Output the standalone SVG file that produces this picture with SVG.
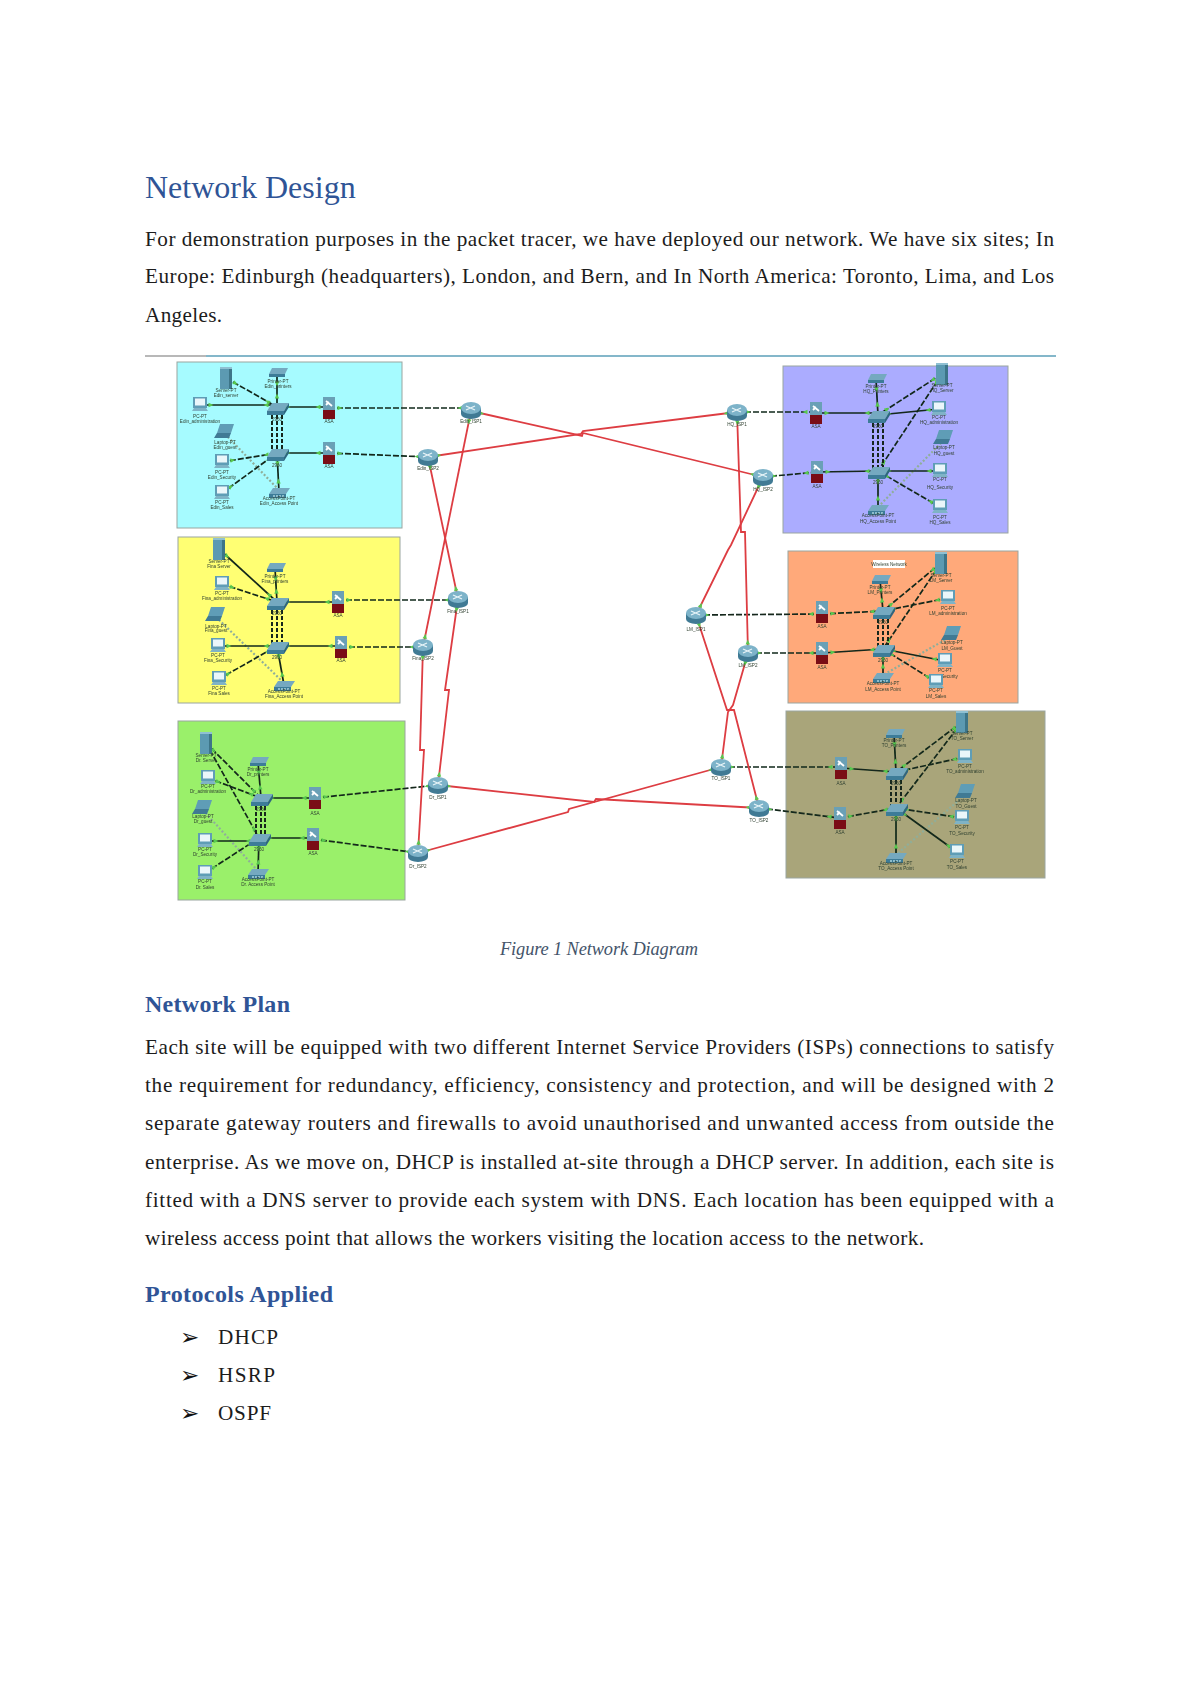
<svg xmlns="http://www.w3.org/2000/svg" width="1200" height="1698" viewBox="0 0 1200 1698">
<style>
text{font-family:"Liberation Serif","Times New Roman",serif}
.b{font-size:21.2px;fill:#1c1c1c}
.h1{font-size:32px;fill:#2f5496}
.h2{font-size:24px;font-weight:bold;fill:#2f5496}
.cap{font-size:18.4px;font-style:italic;fill:#44546a}
.li{font-size:21.2px;fill:#1c1c1c}
.bu{font-family:"DejaVu Sans",sans-serif;font-size:23px;fill:#111}
.n text{font-family:"Liberation Sans",Arial,sans-serif;font-size:4.6px;fill:#2f4030;text-anchor:middle}
.site{stroke:#9aa5a0;stroke-width:1}
.l,.d,.t,.w,.r{fill:none}
.l{stroke:#12281a;stroke-width:1.7;marker-start:url(#ds);marker-end:url(#de)}
.d{stroke:#12281a;stroke-width:1.7;stroke-dasharray:6 2;marker-start:url(#ds);marker-end:url(#de)}
.t{stroke:#12281a;stroke-width:2;stroke-dasharray:4 2}
.w{stroke:#8fae9a;stroke-width:2.2;stroke-dasharray:2 2}
.r{stroke:#dd3c42;stroke-width:1.8;marker-start:url(#ds);marker-end:url(#de)}
</style>
<defs>
<filter id="soft" x="0" y="0" width="1" height="1"><feGaussianBlur stdDeviation="0.6"/></filter>
<marker id="ds" markerUnits="userSpaceOnUse" markerWidth="8" markerHeight="8" refX="-11" refY="0" orient="auto" overflow="visible"><path d="M-2.5-2.2 2.5 0-2.5 2.2Z" fill="#58c94f"/></marker>
<marker id="de" markerUnits="userSpaceOnUse" markerWidth="8" markerHeight="8" refX="11" refY="0" orient="auto" overflow="visible"><path d="M2.5-2.2-2.5 0 2.5 2.2Z" fill="#58c94f"/></marker>
<g id="srv"><rect x="-6" y="-11" width="12" height="22" fill="#5c9ab2"/><rect x="3" y="-11" width="3" height="22" fill="#3d7488"/><rect x="-6" y="-11" width="12" height="2" fill="#8fc0d2"/></g>
<g id="pc"><rect x="-7" y="-8" width="14" height="11" fill="#5f9db6"/><rect x="-5" y="-6.500" width="10" height="7" fill="#eaf6fa"/><path d="M-8 6-6 3H6L8 6Z" fill="#7fb3c6"/></g>
<g id="lap"><path d="M-5-8H9L6 1H-8Z" fill="#5f9db6"/><path d="M-11 6-8 1H6L4 6Z" fill="#3f7a94"/></g>
<g id="sw"><path d="M-10 4-5-4H12L7 4Z" fill="#74a9c0"/><path d="M-10 4H7V8H-10Z" fill="#3e7c98"/><path d="M7 4 12-4V0L7 8Z" fill="#2f6580"/></g>
<g id="fw"><rect x="-6" y="-11" width="12" height="13" fill="#6aa0b6"/><rect x="-6" y="2" width="12" height="9" fill="#7a0d16"/><path d="M-3-7 3-2M-3-3 0-6" stroke="#fff" stroke-width="1.8" fill="none"/></g>
<g id="rt"><path d="M-10-2V4A10 5 0 0 0 10 4V-2Z" fill="#3f7a94"/><ellipse cx="0" cy="-2" rx="10" ry="6" fill="#7db3c9"/><path d="M-5-4 4 0M4-4-5 0" stroke="#e8f4f8" stroke-width="1.300"/></g>
<g id="ap"><path d="M-10 2-6-4H11L7 2Z" fill="#74a9c0"/><path d="M-10 2H7V6H-10Z" fill="#3e7c98"/><path d="M-6 4H5" stroke="#dff" stroke-dasharray="2 1"/></g>
<g id="pr"><path d="M-8 1-5-5H11L8 1Z" fill="#74a9c0"/><path d="M-8 1H8V4H-8Z" fill="#3e7c98"/></g>
</defs>
<rect width="1200" height="1698" fill="#fff"/>
<text class="h1" x="145" y="198">Network Design</text>
<text class="b" x="145" y="246" textLength="909" lengthAdjust="spacing">For demonstration purposes in the packet tracer, we have deployed our network. We have six sites; In</text>
<text class="b" x="145" y="283" textLength="909" lengthAdjust="spacing">Europe: Edinburgh (headquarters), London, and Bern, and In North America: Toronto, Lima, and Los</text>
<text class="b" x="145" y="322" textLength="77" lengthAdjust="spacing">Angeles.</text>
<path d="M145 356H206" stroke="#a0a0a0" stroke-width="1.500"/><path d="M206 356H1056" stroke="#5b9fb8" stroke-width="1.500"/>

<g id="sites">
<rect class="site" x="177" y="362" width="225" height="166" fill="#a6fbff"/>
<rect class="site" x="178" y="537" width="222" height="166" fill="#ffff73"/>
<rect class="site" x="178" y="721" width="227" height="179" fill="#9af06a"/>
<rect class="site" x="783" y="366" width="225" height="167" fill="#abacff"/>
<rect class="site" x="788" y="551" width="230" height="152" fill="#ffa97a"/>
<rect class="site" x="786" y="711" width="259" height="167" fill="#a9a57a"/>
<rect x="873" y="560" width="32" height="8" fill="#fff"/>
</g>
<g filter="url(#soft)">
<g id="connectors">
<path class="w" d="M225 434 279 490"/><path class="w" d="M216 617 284 683"/><path class="w" d="M203 810 258 871"/><path class="w" d="M944 440 878 507"/><path class="w" d="M952 636 883 675"/><path class="w" d="M966 794 896 855"/>
<path class="d" d="M226 378 277 407"/><path class="l" d="M277 373V407"/><path class="l" d="M200 405H277"/><path class="l" d="M277 407H329"/><path class="l" d="M277 453H329"/><path class="t" d="M272 409V452M277 409V452M282 409V452"/><path class="d" d="M222 462 277 453"/><path class="d" d="M222 493 277 453"/><path class="l" d="M279 492 277 453"/><path class="d" d="M329 408H471"/><path class="d" d="M329 453 428 457"/>
<path class="l" d="M219 549 277 602"/><path class="d" d="M222 584 277 602"/><path class="l" d="M275 568 277 602"/><path class="l" d="M277 602H338"/><path class="l" d="M277 646H341"/><path class="t" d="M272 604V645M277 604V645M282 604V645"/><path class="l" d="M218 646H277"/><path class="d" d="M219 679 277 646"/><path class="l" d="M284 685 277 646"/><path class="d" d="M338 600H458"/><path class="d" d="M341 647H423"/>
<path class="d" d="M206 743 261 798"/><path class="d" d="M206 743 259 838"/><path class="d" d="M208 778 261 798"/><path class="l" d="M258 762 261 798"/><path class="l" d="M261 798H315"/><path class="l" d="M259 838H313"/><path class="t" d="M256 800V837M261 800V837M265 800V837"/><path class="l" d="M205 841H259"/><path class="d" d="M205 873 259 838"/><path class="l" d="M258 873 259 838"/><path class="d" d="M315 798 438 785"/><path class="d" d="M313 839 418 853"/>
<path class="d" d="M942 374 878 415"/><path class="d" d="M942 374 878 471"/><path class="l" d="M939 409 878 415"/><path class="l" d="M876 379 878 415"/><path class="l" d="M816 413H878"/><path class="l" d="M817 472 878 471"/><path class="t" d="M873 417V470M878 417V470M883 417V470"/><path class="l" d="M940 471H878"/><path class="d" d="M940 507 878 471"/><path class="l" d="M878 509V471"/><path class="d" d="M737 412H816"/><path class="d" d="M763 477 817 472"/>
<path class="d" d="M941 563 883 611"/><path class="d" d="M941 563 883 649"/><path class="d" d="M948 598 883 611"/><path class="l" d="M880 580 883 611"/><path class="d" d="M822 614 883 611"/><path class="l" d="M822 653 883 649"/><path class="t" d="M878 613V648M883 613V648M888 613V648"/><path class="l" d="M945 661 883 649"/><path class="d" d="M936 682 883 649"/><path class="l" d="M883 677V649"/><path class="d" d="M696 615 822 614"/><path class="d" d="M748 653H822"/>
<path class="d" d="M962 722 896 772"/><path class="d" d="M962 722 896 808"/><path class="d" d="M965 757 896 772"/><path class="l" d="M894 734 896 772"/><path class="l" d="M841 768 896 772"/><path class="d" d="M840 818 896 808"/><path class="t" d="M891 774V807M896 774V807M901 774V807"/><path class="d" d="M962 818 896 808"/><path class="l" d="M957 852 896 808"/><path class="l" d="M896 857V808"/><path class="d" d="M721 767H841"/><path class="d" d="M759 808 840 818"/>
<path class="r" d="M471 411 582 436 583 433 763 477"/>
<path class="r" d="M428 457 581 434 583 431 737 412"/>
<path class="r" d="M471 411 423 647"/>
<path class="r" d="M428 457 458 599"/>
<path class="r" d="M458 599 445 690H449L438 785"/>
<path class="r" d="M423 647 420 750H424L418 853"/>
<path class="r" d="M438 785 594 802 596 799 759 808"/>
<path class="r" d="M418 853 568 812 569 809 721 767"/>
<path class="r" d="M737 412 741 532H745L748 653"/>
<path class="r" d="M763 477 731 545 728 550 696 615"/>
<path class="r" d="M696 615 727 710H734L759 808"/>
<path class="r" d="M748 653 733 705 728 712 721 767"/>
</g>
<g class="n">
<g id="c1"><use href="#srv" x="226" y="378"/><text x="226" y="392">Server-PT</text><text x="226" y="397">Edin_server</text></g>
<g id="c2"><use href="#pr" x="277" y="373"/><text x="278" y="383">Printer-PT</text><text x="278" y="388">Edin_printers</text></g>
<g id="c3"><use href="#pc" x="200" y="405"/><text x="200" y="418">PC-PT</text><text x="200" y="423">Edin_administration</text></g>
<g id="c4"><use href="#lap" x="225" y="432"/><text x="225" y="444">Laptop-PT</text><text x="225" y="449">Edin_guest</text></g>
<g id="c5"><use href="#pc" x="222" y="462"/><text x="222" y="474">PC-PT</text><text x="222" y="479">Edin_Security</text></g>
<g id="c6"><use href="#pc" x="222" y="493"/><text x="222" y="504">PC-PT</text><text x="222" y="509">Edin_Sales</text></g>
<g id="c7"><use href="#ap" x="279" y="492"/><text x="279" y="500">AccessPoint-PT</text><text x="279" y="505">Edin_Access Point</text></g>
<g id="c8"><use href="#sw" x="277" y="407"/><text x="277" y="421">2960</text></g>
<g id="c9"><use href="#sw" x="277" y="453"/><text x="277" y="467">2960</text></g>
<g id="c10"><use href="#fw" x="329" y="408"/><text x="329" y="423">ASA</text></g>
<g id="c11"><use href="#fw" x="329" y="453"/><text x="329" y="468">ASA</text></g>
<g id="c12"><use href="#rt" x="471" y="410"/><text x="471" y="423">Edin_ISP1</text></g>
<g id="c13"><use href="#rt" x="428" y="457"/><text x="428" y="470">Edin_ISP2</text></g>

<g id="y1"><use href="#srv" x="219" y="549"/><text x="219" y="563">Server-PT</text><text x="219" y="568">Fina Server</text></g>
<g id="y2"><use href="#pc" x="222" y="584"/><text x="222" y="595">PC-PT</text><text x="222" y="600">Fina_administration</text></g>
<g id="y3"><use href="#lap" x="216" y="615"/><text x="216" y="628">Laptop-PT</text><text x="216" y="632">Fina_guest</text></g>
<g id="y4"><use href="#pc" x="218" y="646"/><text x="218" y="657">PC-PT</text><text x="218" y="662">Fina_Security</text></g>
<g id="y5"><use href="#pc" x="219" y="679"/><text x="219" y="690">PC-PT</text><text x="219" y="695">Fina Sales</text></g>
<g id="y6"><use href="#pr" x="275" y="568"/><text x="275" y="578">Printer-PT</text><text x="275" y="583">Fina_printers</text></g>
<g id="y7"><use href="#ap" x="284" y="685"/><text x="284" y="693">AccessPoint-PT</text><text x="284" y="698">Fina_Access Point</text></g>
<g id="y8"><use href="#sw" x="277" y="602"/><text x="277" y="615">2960</text></g>
<g id="y9"><use href="#sw" x="277" y="646"/><text x="277" y="659">2960</text></g>
<g id="y10"><use href="#fw" x="338" y="602"/><text x="338" y="617">ASA</text></g>
<g id="y11"><use href="#fw" x="341" y="647"/><text x="341" y="662">ASA</text></g>
<g id="y12"><use href="#rt" x="458" y="599"/><text x="458" y="613">Fina_ISP1</text></g>
<g id="y13"><use href="#rt" x="423" y="647"/><text x="423" y="660">Fina_ISP2</text></g>

<g id="g1"><use href="#srv" x="206" y="743"/><text x="206" y="757">Server-PT</text><text x="206" y="762">Dr. Server</text></g>
<g id="g2"><use href="#pc" x="208" y="778"/><text x="208" y="788">PC-PT</text><text x="208" y="793">Dr_administration</text></g>
<g id="g3"><use href="#lap" x="203" y="808"/><text x="203" y="818">Laptop-PT</text><text x="203" y="823">Dr_guest</text></g>
<g id="g4"><use href="#pc" x="205" y="841"/><text x="205" y="851">PC-PT</text><text x="205" y="856">Dr_Security</text></g>
<g id="g5"><use href="#pc" x="205" y="873"/><text x="205" y="883">PC-PT</text><text x="205" y="889">Dr. Sales</text></g>
<g id="g6"><use href="#pr" x="258" y="762"/><text x="258" y="771">Printer-PT</text><text x="258" y="776">Dr_printers</text></g>
<g id="g7"><use href="#ap" x="258" y="873"/><text x="258" y="881">AccessPoint-PT</text><text x="258" y="886">Dr. Access Point</text></g>
<g id="g8"><use href="#sw" x="261" y="798"/><text x="261" y="811">2960</text></g>
<g id="g9"><use href="#sw" x="259" y="838"/><text x="259" y="851">2960</text></g>
<g id="g10"><use href="#fw" x="315" y="798"/><text x="315" y="815">ASA</text></g>
<g id="g11"><use href="#fw" x="313" y="839"/><text x="313" y="855">ASA</text></g>
<g id="g12"><use href="#rt" x="438" y="785"/><text x="438" y="799">Dr_ISP1</text></g>
<g id="g13"><use href="#rt" x="418" y="853"/><text x="418" y="868">Dr_ISP2</text></g>

<g id="p1"><use href="#srv" x="942" y="374"/><text x="942" y="387">Server-PT</text><text x="942" y="392">HQ_Server</text></g>
<g id="p2"><use href="#pc" x="939" y="409"/><text x="939" y="419">PC-PT</text><text x="939" y="424">HQ_administration</text></g>
<g id="p3"><use href="#lap" x="944" y="438"/><text x="944" y="449">Laptop-PT</text><text x="944" y="455">HQ_guest</text></g>
<g id="p4"><use href="#pc" x="940" y="471"/><text x="940" y="481">PC-PT</text><text x="940" y="489">HQ_Security</text></g>
<g id="p5"><use href="#pc" x="940" y="507"/><text x="940" y="519">PC-PT</text><text x="940" y="524">HQ_Sales</text></g>
<g id="p6"><use href="#pr" x="876" y="379"/><text x="876" y="388">Printer-PT</text><text x="876" y="393">HQ_Printers</text></g>
<g id="p7"><use href="#ap" x="878" y="509"/><text x="878" y="517">AccessPoint-PT</text><text x="878" y="523">HQ_Access Point</text></g>
<g id="p8"><use href="#sw" x="878" y="415"/><text x="878" y="428">2960</text></g>
<g id="p9"><use href="#sw" x="878" y="471"/><text x="878" y="484">2960</text></g>
<g id="p10"><use href="#fw" x="816" y="413"/><text x="816" y="428">ASA</text></g>
<g id="p11"><use href="#fw" x="817" y="472"/><text x="817" y="488">ASA</text></g>
<g id="p12"><use href="#rt" x="737" y="412"/><text x="737" y="426">HQ_ISP1</text></g>
<g id="p13"><use href="#rt" x="763" y="477"/><text x="763" y="491">HQ_ISP2</text></g>

<g id="o0"><text x="889" y="566">Wireless Network</text></g>
<g id="o1"><use href="#srv" x="941" y="563"/><text x="941" y="577">Server-PT</text><text x="941" y="582">LM_Server</text></g>
<g id="o2"><use href="#pc" x="948" y="598"/><text x="948" y="610">PC-PT</text><text x="948" y="615">LM_administration</text></g>
<g id="o3"><use href="#lap" x="952" y="634"/><text x="952" y="644">Laptop-PT</text><text x="952" y="650">LM_Guest</text></g>
<g id="o4"><use href="#pc" x="945" y="661"/><text x="945" y="672">PC-PT</text><text x="945" y="678">LM_Security</text></g>
<g id="o5"><use href="#pc" x="936" y="682"/><text x="936" y="692">PC-PT</text><text x="936" y="698">LM_Sales</text></g>
<g id="o6"><use href="#pr" x="880" y="580"/><text x="880" y="589">Printer-PT</text><text x="880" y="594">LM_Printers</text></g>
<g id="o7"><use href="#ap" x="883" y="677"/><text x="883" y="685">AccessPoint-PT</text><text x="883" y="691">LM_Access Point</text></g>
<g id="o8"><use href="#sw" x="883" y="611"/><text x="883" y="624">2960</text></g>
<g id="o9"><use href="#sw" x="883" y="649"/><text x="883" y="662">2960</text></g>
<g id="o10"><use href="#fw" x="822" y="612"/><text x="822" y="628">ASA</text></g>
<g id="o11"><use href="#fw" x="822" y="653"/><text x="822" y="669">ASA</text></g>
<g id="o12"><use href="#rt" x="696" y="615"/><text x="696" y="631">LM_ISP1</text></g>
<g id="o13"><use href="#rt" x="748" y="653"/><text x="748" y="667">LM_ISP2</text></g>

<g id="v1"><use href="#srv" x="962" y="722"/><text x="962" y="735">Server-PT</text><text x="962" y="740">TO_Server</text></g>
<g id="v2"><use href="#pc" x="965" y="757"/><text x="965" y="768">PC-PT</text><text x="965" y="773">TO_administration</text></g>
<g id="v3"><use href="#lap" x="966" y="792"/><text x="966" y="802">Laptop-PT</text><text x="966" y="808">TO_Guest</text></g>
<g id="v4"><use href="#pc" x="962" y="818"/><text x="962" y="829">PC-PT</text><text x="962" y="835">TO_Security</text></g>
<g id="v5"><use href="#pc" x="957" y="852"/><text x="957" y="863">PC-PT</text><text x="957" y="869">TO_Sales</text></g>
<g id="v6"><use href="#pr" x="894" y="734"/><text x="894" y="742">Printer-PT</text><text x="894" y="747">TO_Printers</text></g>
<g id="v7"><use href="#ap" x="896" y="857"/><text x="896" y="865">AccessPoint-PT</text><text x="896" y="870">TO_Access Point</text></g>
<g id="v8"><use href="#sw" x="896" y="772"/><text x="896" y="785">2960</text></g>
<g id="v9"><use href="#sw" x="896" y="808"/><text x="896" y="821">2960</text></g>
<g id="v10"><use href="#fw" x="841" y="768"/><text x="841" y="785">ASA</text></g>
<g id="v11"><use href="#fw" x="840" y="818"/><text x="840" y="834">ASA</text></g>
<g id="v12"><use href="#rt" x="721" y="767"/><text x="721" y="780">TO_ISP1</text></g>
<g id="v13"><use href="#rt" x="759" y="808"/><text x="759" y="822">TO_ISP2</text></g>
</g>
</g>

<text class="cap" x="500" y="955" textLength="198" lengthAdjust="spacing">Figure 1 Network Diagram</text>
<text class="h2" x="145" y="1012" textLength="145" lengthAdjust="spacing">Network Plan</text>
<text class="b" x="145" y="1054" textLength="909" lengthAdjust="spacing">Each site will be equipped with two different Internet Service Providers (ISPs) connections to satisfy</text>
<text class="b" x="145" y="1092" textLength="909" lengthAdjust="spacing">the requirement for redundancy, efficiency, consistency and protection, and will be designed with 2</text>
<text class="b" x="145" y="1130" textLength="909" lengthAdjust="spacing">separate gateway routers and firewalls to avoid unauthorised and unwanted access from outside the</text>
<text class="b" x="145" y="1169" textLength="909" lengthAdjust="spacing">enterprise. As we move on, DHCP is installed at-site through a DHCP server. In addition, each site is</text>
<text class="b" x="145" y="1207" textLength="909" lengthAdjust="spacing">fitted with a DNS server to provide each system with DNS. Each location has been equipped with a</text>
<text class="b" x="145" y="1245" textLength="779" lengthAdjust="spacing">wireless access point that allows the workers visiting the location access to the network.</text>
<text class="h2" x="145" y="1302" textLength="188" lengthAdjust="spacing">Protocols Applied</text>
<text class="bu" x="180" y="1345">➢</text><text class="li" x="218" y="1344" textLength="60" lengthAdjust="spacing">DHCP</text>
<text class="bu" x="180" y="1383">➢</text><text class="li" x="218" y="1382" textLength="57" lengthAdjust="spacing">HSRP</text>
<text class="bu" x="180" y="1421">➢</text><text class="li" x="218" y="1420" textLength="53" lengthAdjust="spacing">OSPF</text>
</svg>
